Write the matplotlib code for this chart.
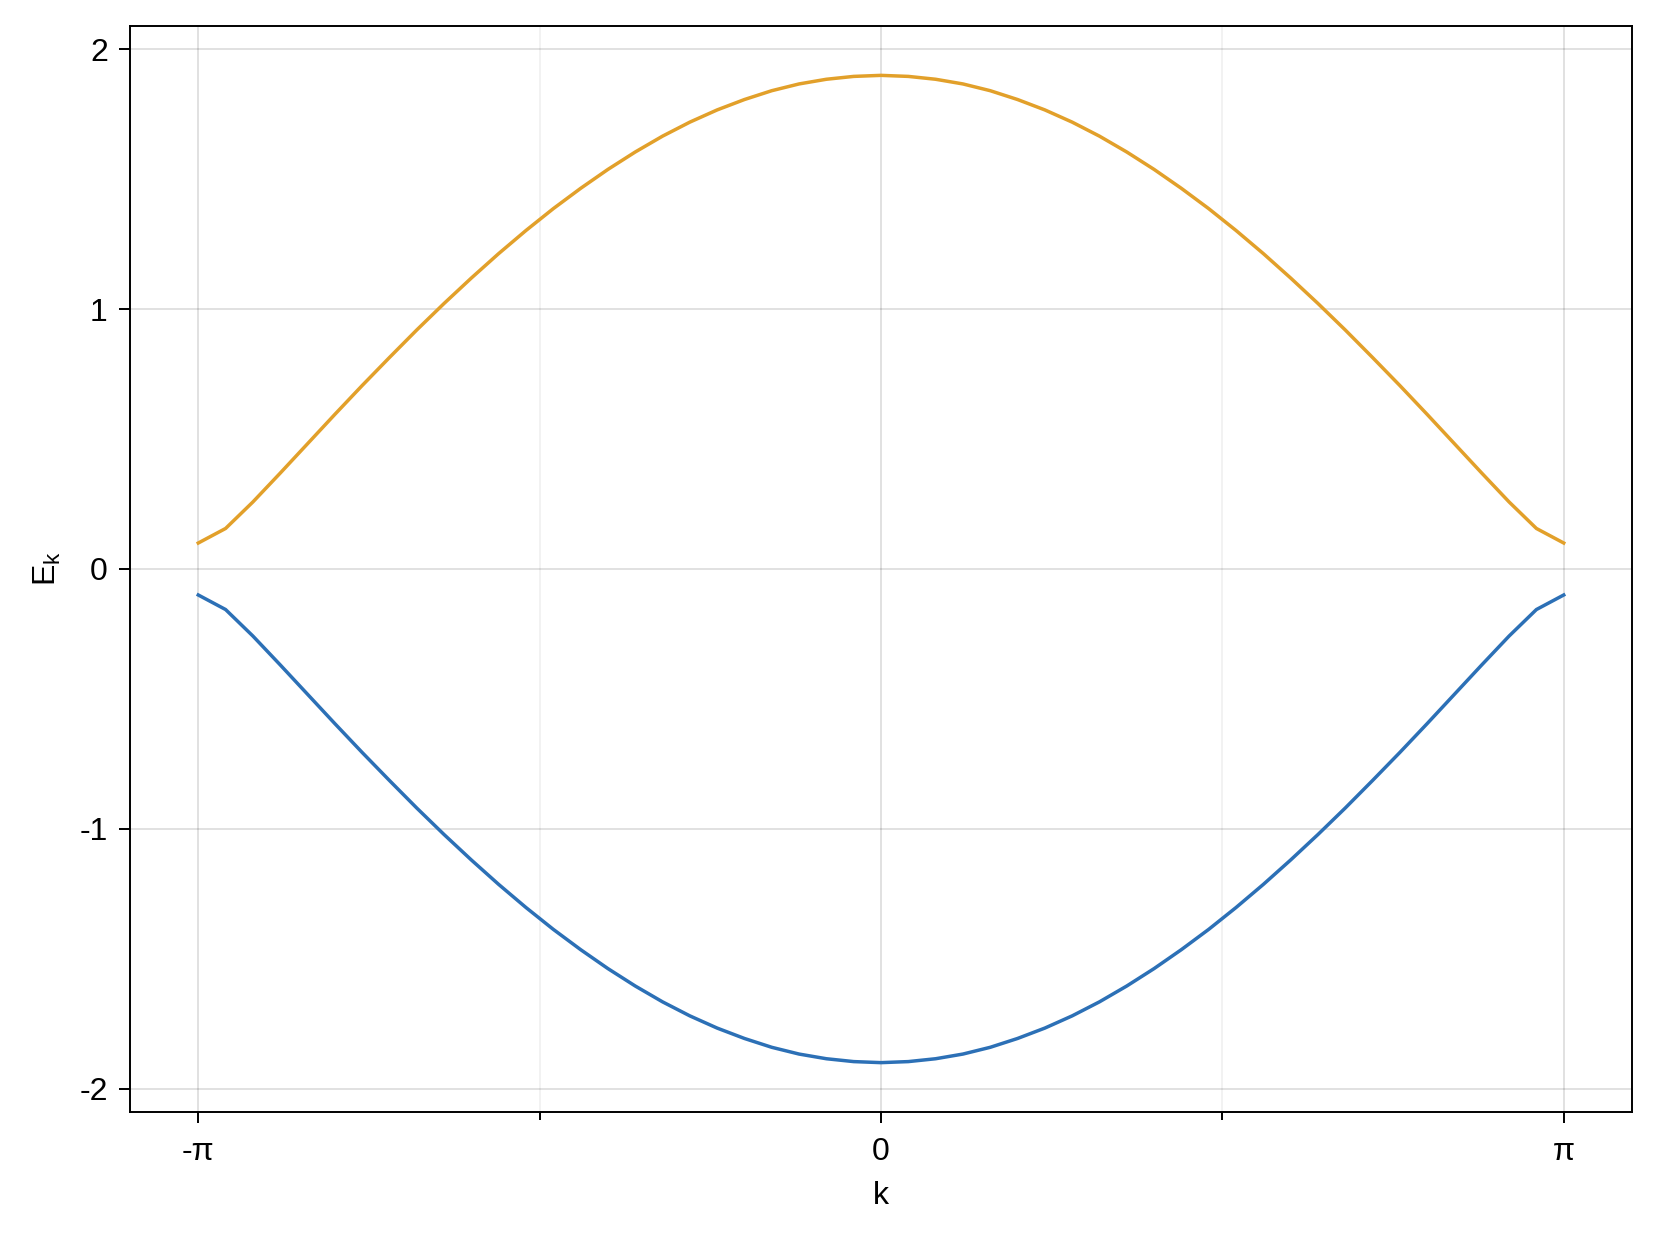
import numpy as np
import matplotlib
matplotlib.use("Agg")
import matplotlib.pyplot as plt

# band energies, k from -pi to pi (51 points)
k = np.linspace(-np.pi, np.pi, 51)
half = [0.100, 0.156, 0.258, 0.369, 0.482, 0.595, 0.706, 0.814, 0.920, 1.022,
        1.120, 1.214, 1.303, 1.387, 1.465, 1.538, 1.605, 1.666, 1.720, 1.767,
        1.807, 1.841, 1.867, 1.885, 1.896, 1.900]
upper = half + half[-2::-1]
lower = [-e for e in upper]

xtick_pos = [-np.pi, 0, np.pi]
xtick_labels = ["-π", "0", "π"]
xminor_pos = [-np.pi / 2, np.pi / 2]
ytick_pos = [-2, -1, 0, 1, 2]
ytick_labels = ["-2", "-1", "0", "1", "2"]

plt.rcParams['font.family'] = ['Liberation Sans', 'DejaVu Sans']
plt.rcParams['mathtext.default'] = 'regular'

fig = plt.figure(figsize=(16.64, 12.40), dpi=100)
ax = fig.add_axes([130 / 1664, 1 - 1112 / 1240, (1632 - 130) / 1664, (1112 - 26) / 1240])

ax.plot(k, lower, color='#2C70B6', lw=2.5, zorder=3)
ax.plot(k, upper, color='#E2A02A', lw=2.5, zorder=3)

ax.set_xlim(-1.1 * np.pi, 1.1 * np.pi)
ax.set_ylim(-2.09, 2.09)

ax.set_xticks(xtick_pos)
ax.set_xticklabels(xtick_labels)
ax.set_xticks(xminor_pos, minor=True)
ax.set_yticks(ytick_pos)
ax.set_yticklabels(ytick_labels)

ax.grid(True, which='major', color='black', alpha=0.12, lw=1.4)
ax.grid(True, which='minor', axis='x', color='black', alpha=0.05, lw=1.4)
ax.set_axisbelow(True)

ax.tick_params(which='major', direction='out', length=8, width=1.4, labelsize=23, pad=8)
ax.tick_params(axis='x', which='major', pad=10)
ax.tick_params(which='minor', direction='out', length=6, width=1.4)
for s in ax.spines.values():
    s.set_linewidth(1.4)

ax.set_xlabel('k', fontsize=23, labelpad=10)
ax.set_ylabel('$E_k$', fontsize=23, labelpad=12)

fig.savefig('out.png', dpi=100)
